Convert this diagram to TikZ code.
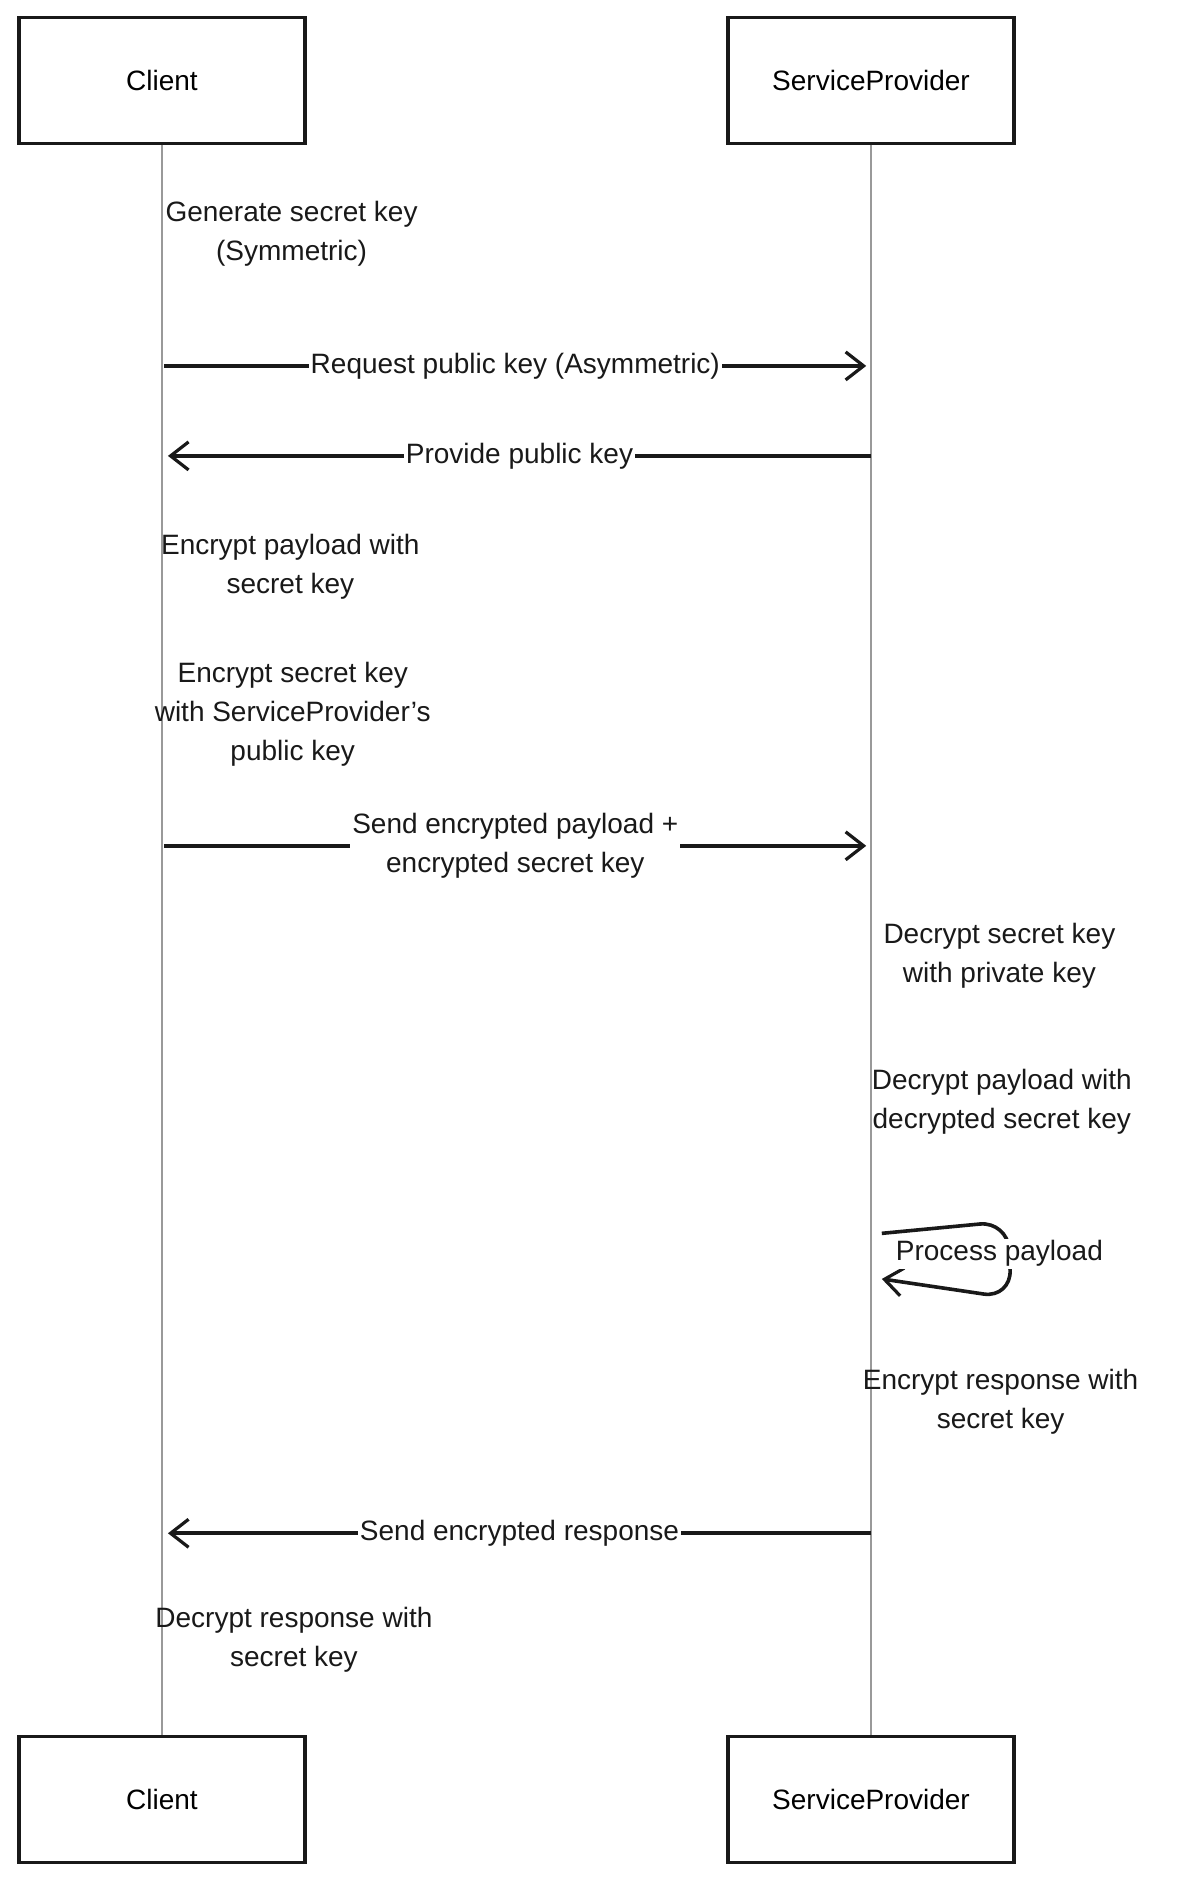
\documentclass[tikz,border=0pt]{standalone}
\usepackage{fontspec}
\setmainfont{Liberation Sans}
\usetikzlibrary{arrows.meta}
\begin{document}
\begin{tikzpicture}[x=0.6pt,y=-0.6pt,
  actor/.style={draw=black!90,line width=1.6pt,minimum width=143pt,minimum height=63pt,font=\fontsize{14}{16}\selectfont},
  lbl/.style={align=center,font=\fontsize{14}{19.5}\selectfont,text=black!90},
  msglbl/.style={lbl,fill=white,inner sep=1pt},
  msg/.style={draw=black!90,line width=1.8pt,-{Straight Barb[length=9pt,width=14pt,line width=1.6pt]}},
  life/.style={draw=black!40,line width=0.6pt}]
\useasboundingbox (0,0) rectangle (1000,1587);
\fill[white] (0,0) rectangle (1000,1587);
\node[actor] (ct) at (135,67) {Client};
\node[actor] (st) at (726,67) {ServiceProvider};
\node[actor] (cb) at (135,1500) {Client};
\node[actor] (sb) at (726,1500) {ServiceProvider};
\draw[life] (ct.south) -- (cb.north);
\draw[life] (st.south) -- (sb.north);
\coordinate (c1) at (137,305); \coordinate (s1) at (722,305);
\coordinate (s2) at (726,380); \coordinate (c2) at (140,380);
\coordinate (c3) at (137,705); \coordinate (s3) at (722,705);
\coordinate (s4) at (726,1278); \coordinate (c4) at (140,1278);
\node[lbl] (t1) at (243,195) {Generate secret key\\(Symmetric)};
\draw[msg] (c1) -- node[msglbl] {Request public key (Asymmetric)} (s1);
\draw[msg] (s2) -- node[msglbl] {Provide public key} (c2);
\node[lbl] (t2) at (242,472) {Encrypt payload with\\secret key};
\node[lbl] (t3) at (244,595) {Encrypt secret key\\with ServiceProvider's\\public key};
\draw[msg] (c3) -- node[msglbl] {Send encrypted payload +\\encrypted secret key} (s3);
\node[lbl] (t4) at (833,797) {Decrypt secret key\\with private key};
\node[lbl] (t5) at (835,918) {Decrypt payload with\\decrypted secret key};
\coordinate (p1) at (735,1028); \coordinate (p2) at (735,1066);
\draw[msg,rounded corners=14pt] (p1) -- (840,1018) -- (843,1082) -- (p2);
\node[msglbl] (t6) at (833,1045) {Process payload};
\node[lbl] (t7) at (834,1168) {Encrypt response with\\secret key};
\draw[msg] (s4) -- node[msglbl] {Send encrypted response} (c4);
\node[lbl] (t8) at (245,1367) {Decrypt response with\\secret key};
\end{tikzpicture}
\end{document}
